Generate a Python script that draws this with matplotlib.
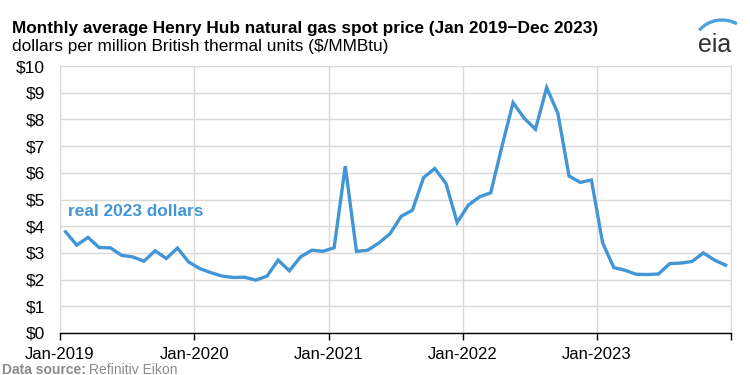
import numpy as np
import matplotlib.pyplot as plt
from matplotlib.patches import Arc

plt.rcParams['font.family'] = ['Liberation Sans', 'DejaVu Sans']

# monthly average Henry Hub spot price, real 2023 $/MMBtu, Jan 2019 - Dec 2023
price_2019 = [3.79, 3.29, 3.58, 3.20, 3.19, 2.91, 2.85, 2.69, 3.08, 2.79, 3.18, 2.66]
price_2020 = [2.41, 2.26, 2.13, 2.08, 2.09, 1.98, 2.13, 2.73, 2.33, 2.85, 3.10, 3.06]
price_2021 = [3.19, 6.25, 3.06, 3.10, 3.37, 3.72, 4.37, 4.60, 5.82, 6.16, 5.60, 4.14]
price_2022 = [4.79, 5.10, 5.25, 6.98, 8.63, 8.04, 7.63, 9.19, 8.23, 5.88, 5.64, 5.73]
price_2023 = [3.38, 2.45, 2.35, 2.20, 2.19, 2.21, 2.60, 2.62, 2.68, 3.00, 2.73, 2.54]
year_labels = ['Jan-2019', 'Jan-2020', 'Jan-2021', 'Jan-2022', 'Jan-2023', '']
y_ticks = list(range(0, 11))

prices = np.array(price_2019 + price_2020 + price_2021 + price_2022 + price_2023)
months = np.arange(len(prices)) + 0.5  # plotted mid-month

blue = '#4396d6'
grid_c = '#d9d9d9'

fig = plt.figure(figsize=(7.5, 3.75), dpi=100)
ax = fig.add_axes([0.08, 0.112, 0.895, 0.712])

ax.plot(months, prices, color=blue, lw=2.4, solid_joinstyle='miter')

ax.set_xlim(0, 60)
ax.set_ylim(0, 10)
ax.set_xticks(np.arange(0, 61, 12))
ax.set_xticklabels(year_labels, fontsize=12)
ax.set_yticks(y_ticks)
ax.set_yticklabels([f'${v}' for v in y_ticks], fontsize=12.5)
ax.tick_params(axis='y', length=0, pad=11)
ax.tick_params(axis='x', length=5, width=1, color='black', pad=5)
ax.grid(True, color=grid_c, lw=1)
ax.set_axisbelow(True)
for s in ['left', 'top', 'right']:
    ax.spines[s].set_color(grid_c)
ax.spines['bottom'].set_color('black')
ax.spines['bottom'].set_linewidth(1)

ax.text(0.72, 4.55, 'real 2023 dollars', color=blue, fontsize=12.4,
        fontweight='bold', va='center')

fig.text(0.016, 0.925, 'Monthly average Henry Hub natural gas spot price (Jan 2019\u2212Dec 2023)',
         fontsize=12.4, fontweight='bold', va='center')
fig.text(0.016, 0.875, 'dollars per million British thermal units ($/MMBtu)',
         fontsize=12.4, va='center')

fig.text(0.003, 0.004, 'Data source:', fontsize=10, fontweight='bold', color='#8c8c8c')
fig.text(0.119, 0.004, 'Refinitiv Eikon', fontsize=10, color='#8c8c8c')

# eia logo, drawn in a small pixel-scaled axes
logo = fig.add_axes([685 / 750, 1 - 60 / 375, 60 / 750, 55 / 375])
logo.set_xlim(685, 745)
logo.set_ylim(375 - 60, 375 - 5)
logo.axis('off')
logo.text(715, 375 - 45, 'eia', fontsize=18, color='#333333', ha='center', va='center')
logo.add_patch(Arc((722, 330), 56, 50, theta1=55, theta2=147,
                   color='#4aa3df', lw=2.4))

fig.savefig('out.png', dpi=100)
